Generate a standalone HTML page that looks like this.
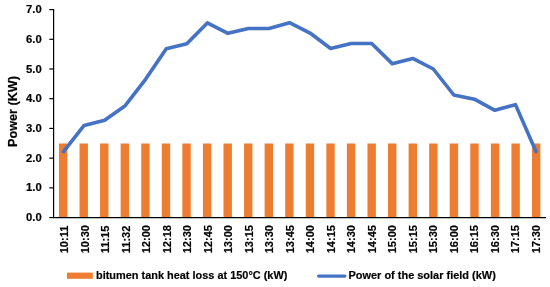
<!DOCTYPE html>
<html><head><meta charset="utf-8"><title>chart</title>
<style>
html,body{margin:0;padding:0;background:#fff;}
svg{display:block}
text{font-family:"Liberation Sans",sans-serif;font-weight:bold;fill:#000;stroke:#000;stroke-width:0.18px;}
</style></head><body>
<svg width="550" height="287" viewBox="0 0 550 287">
<rect width="550" height="287" fill="#fff"/>
<g fill="#ED7D31">
<rect x="58.95" y="143.50" width="8.4" height="74.05"/>
<rect x="79.52" y="143.50" width="8.4" height="74.05"/>
<rect x="100.08" y="143.50" width="8.4" height="74.05"/>
<rect x="120.65" y="143.50" width="8.4" height="74.05"/>
<rect x="141.22" y="143.50" width="8.4" height="74.05"/>
<rect x="161.79" y="143.50" width="8.4" height="74.05"/>
<rect x="182.35" y="143.50" width="8.4" height="74.05"/>
<rect x="202.92" y="143.50" width="8.4" height="74.05"/>
<rect x="223.49" y="143.50" width="8.4" height="74.05"/>
<rect x="244.05" y="143.50" width="8.4" height="74.05"/>
<rect x="264.62" y="143.50" width="8.4" height="74.05"/>
<rect x="285.19" y="143.50" width="8.4" height="74.05"/>
<rect x="305.75" y="143.50" width="8.4" height="74.05"/>
<rect x="326.32" y="143.50" width="8.4" height="74.05"/>
<rect x="346.89" y="143.50" width="8.4" height="74.05"/>
<rect x="367.45" y="143.50" width="8.4" height="74.05"/>
<rect x="388.02" y="143.50" width="8.4" height="74.05"/>
<rect x="408.59" y="143.50" width="8.4" height="74.05"/>
<rect x="429.16" y="143.50" width="8.4" height="74.05"/>
<rect x="449.72" y="143.50" width="8.4" height="74.05"/>
<rect x="470.29" y="143.50" width="8.4" height="74.05"/>
<rect x="490.86" y="143.50" width="8.4" height="74.05"/>
<rect x="511.42" y="143.50" width="8.4" height="74.05"/>
<rect x="531.99" y="143.50" width="8.4" height="74.05"/>
</g>
<g stroke="#000" stroke-width="1.2" fill="none">
<path d="M53.6 8.98V217.55"/>
<path d="M53.0 217.55H546.0"/>
<path d="M49.300000000000004 217.55H53.6"/>
<path d="M49.300000000000004 187.84H53.6"/>
<path d="M49.300000000000004 158.13H53.6"/>
<path d="M49.300000000000004 128.42H53.6"/>
<path d="M49.300000000000004 98.71H53.6"/>
<path d="M49.300000000000004 69.00H53.6"/>
<path d="M49.300000000000004 39.29H53.6"/>
<path d="M49.300000000000004 9.58H53.6"/>
</g>
<polyline points="63.57,151.59 84.11,125.45 104.65,120.25 125.19,105.69 145.73,79.10 166.27,48.80 186.81,43.75 207.35,22.95 227.89,33.35 248.43,28.45 268.97,28.45 289.51,22.65 310.05,33.05 330.59,48.50 351.13,43.45 371.67,43.45 392.21,63.65 412.75,58.45 433.29,69.00 453.83,95.00 474.37,99.16 494.91,110.30 515.45,104.65 535.99,151.59" fill="none" stroke="#4472C4" stroke-width="3.6" stroke-linejoin="round" stroke-linecap="round"/>
<text x="26.1" y="221.15" font-size="10.5" textLength="15.7" lengthAdjust="spacingAndGlyphs">0.0</text>
<text x="26.1" y="191.44" font-size="10.5" textLength="15.7" lengthAdjust="spacingAndGlyphs">1.0</text>
<text x="26.1" y="161.73" font-size="10.5" textLength="15.7" lengthAdjust="spacingAndGlyphs">2.0</text>
<text x="26.1" y="132.02" font-size="10.5" textLength="15.7" lengthAdjust="spacingAndGlyphs">3.0</text>
<text x="26.1" y="102.31" font-size="10.5" textLength="15.7" lengthAdjust="spacingAndGlyphs">4.0</text>
<text x="26.1" y="72.60" font-size="10.5" textLength="15.7" lengthAdjust="spacingAndGlyphs">5.0</text>
<text x="26.1" y="42.89" font-size="10.5" textLength="15.7" lengthAdjust="spacingAndGlyphs">6.0</text>
<text x="26.1" y="13.18" font-size="10.5" textLength="15.7" lengthAdjust="spacingAndGlyphs">7.0</text>
<text transform="translate(68.00,253.3) rotate(-90)" font-size="11.05">10:11</text>
<text transform="translate(88.52,253.3) rotate(-90)" font-size="11.05">10:30</text>
<text transform="translate(109.04,253.3) rotate(-90)" font-size="11.05">11:15</text>
<text transform="translate(129.56,253.3) rotate(-90)" font-size="11.05">11:32</text>
<text transform="translate(150.08,253.3) rotate(-90)" font-size="11.05">12:00</text>
<text transform="translate(170.60,253.3) rotate(-90)" font-size="11.05">12:18</text>
<text transform="translate(191.12,253.3) rotate(-90)" font-size="11.05">12:30</text>
<text transform="translate(211.64,253.3) rotate(-90)" font-size="11.05">12:45</text>
<text transform="translate(232.16,253.3) rotate(-90)" font-size="11.05">13:00</text>
<text transform="translate(252.68,253.3) rotate(-90)" font-size="11.05">13:15</text>
<text transform="translate(273.20,253.3) rotate(-90)" font-size="11.05">13:30</text>
<text transform="translate(293.72,253.3) rotate(-90)" font-size="11.05">13:45</text>
<text transform="translate(314.24,253.3) rotate(-90)" font-size="11.05">14:00</text>
<text transform="translate(334.76,253.3) rotate(-90)" font-size="11.05">14:15</text>
<text transform="translate(355.28,253.3) rotate(-90)" font-size="11.05">14:30</text>
<text transform="translate(375.80,253.3) rotate(-90)" font-size="11.05">14:45</text>
<text transform="translate(396.32,253.3) rotate(-90)" font-size="11.05">15:00</text>
<text transform="translate(416.84,253.3) rotate(-90)" font-size="11.05">15:15</text>
<text transform="translate(437.36,253.3) rotate(-90)" font-size="11.05">15:30</text>
<text transform="translate(457.88,253.3) rotate(-90)" font-size="11.05">16:00</text>
<text transform="translate(478.40,253.3) rotate(-90)" font-size="11.05">16:15</text>
<text transform="translate(498.92,253.3) rotate(-90)" font-size="11.05">16:30</text>
<text transform="translate(519.44,253.3) rotate(-90)" font-size="11.05">17:15</text>
<text transform="translate(539.96,253.3) rotate(-90)" font-size="11.05">17:30</text>
<text transform="translate(16.7,147) rotate(-90)" font-size="12.2" stroke-width="0.1" textLength="71" lengthAdjust="spacingAndGlyphs">Power (KW)</text>
<rect x="67" y="272.6" width="25.8" height="6.2" fill="#ED7D31"/>
<text x="96" y="279.2" font-size="11.3" textLength="191.4" lengthAdjust="spacingAndGlyphs">bitumen tank heat loss at 150°C (kW)</text>
<path d="M318.7 276.1H344.8" stroke="#4472C4" stroke-width="3.4" stroke-linecap="round" fill="none"/>
<text x="348.5" y="279.3" font-size="11.2" textLength="147.3" lengthAdjust="spacingAndGlyphs">Power of the solar field (kW)</text>
</svg></body></html>
